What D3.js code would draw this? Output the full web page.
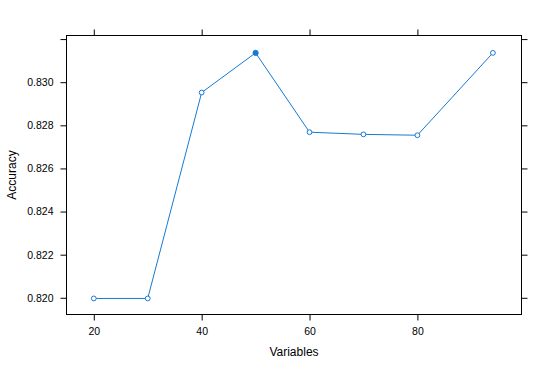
<!DOCTYPE html>
<html>
<head>
<meta charset="utf-8">
<script src="https://cdn.jsdelivr.net/npm/d3@7"></script>
<style>
html,body{margin:0;padding:0;background:#fff;}
svg{display:block;font-family:Arial,"Liberation Sans",sans-serif;}
</style>
</head>
<body>
<svg id="chart" width="550" height="368"></svg>
<script>
const variables = [20, 30, 40, 50, 60, 70, 80, 94];
const accuracy = [0.81997, 0.81997, 0.82952, 0.83136, 0.82768, 0.82758, 0.82754, 0.83136];
const bestIndex = 3;
const xTicks = [20, 40, 60, 80];
const yTicks = [0.820, 0.822, 0.824, 0.826, 0.828, 0.830, 0.832];
const yLabelTicks = [0.820, 0.822, 0.824, 0.826, 0.828, 0.830];
const xTitle = "Variables";
const yTitle = "Accuracy";

const svg = d3.select("#chart");
const L = 66.5, R = 521.5, T = 35.5, B = 314.5;
const color = "#1879d2";

const x = d3.scaleLinear().domain([14.94, 99.3]).range([L, R]);
const y = d3.scaleLinear().domain([0.819225, 0.832166]).range([B, T]);

function styleAxis(g, showLabels) {
  g.select(".domain").remove();
  g.selectAll(".tick line").attr("stroke", "#000").attr("stroke-width", 1);
  g.selectAll(".tick text").attr("fill", "#000").style("font-size", "10.5px");
  if (!showLabels) g.selectAll(".tick text").remove();
}

// bottom
svg.append("g").attr("transform", `translate(0,${B})`)
  .call(d3.axisBottom(x).tickValues(xTicks).tickFormat(d3.format("d")).tickSize(6).tickPadding(7))
  .call(g => styleAxis(g, true));
// top
svg.append("g").attr("transform", `translate(0,${T})`)
  .call(d3.axisTop(x).tickValues(xTicks).tickSize(6))
  .call(g => styleAxis(g, false));
// left
const leftAx = svg.append("g").attr("transform", `translate(${L},0)`)
  .call(d3.axisLeft(y).tickValues(yTicks).tickFormat(d3.format(".3f")).tickSize(6).tickPadding(7))
  .call(g => styleAxis(g, true));
leftAx.selectAll(".tick text").filter(d => !yLabelTicks.some(v => Math.abs(v - d) < 1e-9)).remove();
// right
svg.append("g").attr("transform", `translate(${R},0)`)
  .call(d3.axisRight(y).tickValues(yTicks).tickSize(6))
  .call(g => styleAxis(g, false));

// panel box
svg.append("rect").attr("x", L).attr("y", T).attr("width", R - L).attr("height", B - T)
  .attr("fill", "none").attr("stroke", "#000").attr("stroke-width", 1);

const pts = variables.map((v, i) => [v, accuracy[i]]);
svg.append("path").datum(pts)
  .attr("fill", "none").attr("stroke", color).attr("stroke-width", 1)
  .attr("d", d3.line().x(d => x(d[0])).y(d => y(d[1])));

svg.selectAll("circle.pt").data(pts).enter().append("circle")
  .attr("class", "pt")
  .attr("cx", d => x(d[0])).attr("cy", d => y(d[1]))
  .attr("r", (d, i) => i === bestIndex ? 2.6 : 2.4)
  .attr("fill", (d, i) => i === bestIndex ? color : "#fff")
  .attr("stroke", color).attr("stroke-width", 1);

svg.append("text").attr("x", (L + R) / 2).attr("y", 356)
  .attr("text-anchor", "middle").style("font-size", "12px").attr("fill", "#000").text(xTitle);
svg.append("text").attr("transform", `translate(16,${(T + B) / 2}) rotate(-90)`)
  .attr("text-anchor", "middle").style("font-size", "12px").attr("fill", "#000").text(yTitle);
</script>
</body>
</html>
